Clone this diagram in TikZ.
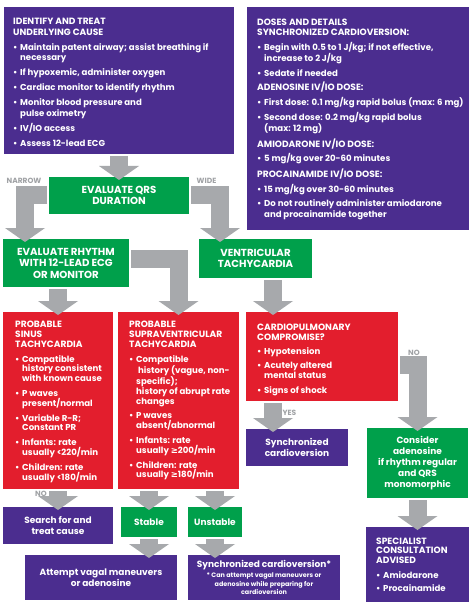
\documentclass[tikz,border=0pt]{standalone}
\usepackage{fontspec}
\setmainfont{Poppins}
\newfontfamily\symf{DejaVu Sans}
\usetikzlibrary{arrows.meta,calc}
\definecolor{pur}{HTML}{4B2D8F}
\definecolor{grn}{HTML}{00A04B}
\definecolor{rd}{HTML}{E31E2D}
\definecolor{agray}{HTML}{A7A9AC}
\definecolor{lgray}{HTML}{A0A2A5}
\newcommand\mybul{\makebox[7pt][l]{\textbullet}}
\newcommand\myind{\hspace*{7pt}}
\newcommand\mygeq{{\symf\bfseries ≥}}
\newcommand\hd[1]{{\fontsize{9.1}{10.5}\selectfont #1}}
\newcommand\smf{\fontsize{6.4}{7.6}\selectfont}
\begin{document}
\begin{tikzpicture}[x=1pt,y=-1pt,
  box/.style={inner sep=0pt, outer sep=0pt, text=white, align=center, anchor=north west,
    font=\bfseries\fontsize{9}{11}\selectfont},
  capbox/.style={box, font=\bfseries\fontsize{10.2}{11.5}\selectfont},
  pbox/.style={box, fill=pur},
  gbox/.style={box, fill=grn},
  rbox/.style={box, fill=rd},
  sz/.style 2 args={minimum width=#1pt, minimum height=#2pt},
  lst/.style={anchor=north west, inner sep=0pt, text=white, align=left,
    font=\bfseries\fontsize{8.6}{10.5}\selectfont},
  lbl/.style={text=lgray, inner sep=0pt, font=\bfseries\fontsize{7.5}{8}\selectfont},
  garrow/.style={draw=agray, line width=18pt, line join=miter, line cap=butt,
    shorten <=2pt, shorten >=-3pt,
    -{Triangle[width=40pt,length=14pt,line width=0pt]}}
]
\fill[white] (0,0) rectangle (474,612);
\useasboundingbox (0,0) rectangle (474,612);

% boxes
\node[pbox, sz={230}{147}] (idt) at (4,7) {};
\node[pbox, sz={222}{223}] (dose) at (247,7) {};
\node[gbox, capbox, sz={140}{37}] (qrs) at (49,177) {EVALUATE QRS\\DURATION};
\node[gbox, capbox, sz={126}{48}] (rhythm) at (3,239) {EVALUATE RHYTHM\\WITH 12-LEAD ECG\\OR MONITOR};
\node[gbox, capbox, sz={113}{39}] (vt) at (199,239) {VENTRICULAR\\TACHYCARDIA};
\node[rbox, sz={110}{177}] (sinus) at (3,312) {};
\node[rbox, sz={121}{177}] (svt) at (118,312) {};
\node[rbox, sz={152}{89}] (cardio) at (246,312) {};
\node[pbox, sz={102}{37}] (sync) at (246,429) {Synchronized\\cardioversion};
\node[gbox, sz={101}{70}] (consider) at (367,428) {Consider\\adenosine\\if rhythm regular\\and QRS\\monomorphic};
\node[pbox, sz={110}{37}] (search) at (3,507) {Search for and\\treat cause};
\node[gbox, sz={56}{30}] (stable) at (121,507) {Stable};
\node[gbox, sz={54}{30}] (unstable) at (188,507) {Unstable};
\node[pbox, sz={152}{45}] (vagal) at (25,555) {Attempt vagal maneuvers\\or adenosine};
\node[pbox, sz={152}{45}] (synccv) at (188,555) {Synchronized cardioversion*\\[-1pt]
  \smf * Can attempt vagal maneuvers or\\[-2.5pt]\smf adenosine while preparing for\\[-2.5pt]\smf cardioversion};
\node[pbox, sz={103}{75}] (spec) at (366,527) {};

% list texts
\node[lst] (idttxt) at (13,18) {\hd{IDENTIFY AND TREAT}\\
\hd{UNDERLYING CAUSE}\\[4.5pt]
\mybul Maintain patent airway; assist breathing if\\
\myind necessary\\[4.5pt]
\mybul If hypoxemic, administer oxygen\\[4.5pt]
\mybul Cardiac monitor to identify rhythm\\[4.5pt]
\mybul Monitor blood pressure and\\
\myind pulse oximetry\\[4.5pt]
\mybul IV/IO access\\[4.5pt]
\mybul Assess 12-lead ECG};

\node[lst] (dosetxt) at (257,18.5) {\hd{DOSES AND DETAILS}\\
\hd{SYNCHRONIZED CARDIOVERSION:}\\[4pt]
\mybul Begin with 0.5 to 1 J/kg; if not effective,\\
\myind increase to 2 J/kg\\[4pt]
\mybul Sedate if needed\\[4pt]
\hd{ADENOSINE IV/IO DOSE:}\\[4pt]
\mybul First dose: 0.1 mg/kg rapid bolus (max: 6 mg)\\[4pt]
\mybul Second dose: 0.2 mg/kg rapid bolus\\
\myind (max: 12 mg)\\[4pt]
\hd{AMIODARONE IV/IO DOSE:}\\[4pt]
\mybul 5 mg/kg over 20-60 minutes\\[4pt]
\hd{PROCAINAMIDE IV/IO DOSE:}\\[4pt]
\mybul 15 mg/kg over 30-60 minutes\\[4pt]
\mybul Do not routinely administer amiodarone\\
\myind and procainamide together};

\node[lst, font=\bfseries\fontsize{8.6}{9.8}\selectfont] (sinustxt) at (15,321) {\hd{PROBABLE}\\
\hd{SINUS}\\
\hd{TACHYCARDIA}\\[5pt]
\mybul Compatible\\
\myind history consistent\\
\myind with known cause\\[5pt]
\mybul P waves\\
\myind present/normal\\[5pt]
\mybul Variable R-R;\\
\myind Constant PR\\[5pt]
\mybul Infants: rate\\
\myind usually <220/min\\[5pt]
\mybul Children: rate\\
\myind usually <180/min};

\node[lst, font=\bfseries\fontsize{8.6}{9.8}\selectfont] (svttxt) at (129,321) {\hd{PROBABLE}\\
\hd{SUPRAVENTRICULAR}\\
\hd{TACHYCARDIA}\\[5pt]
\mybul Compatible\\
\myind\ history (vague, non-\\
\myind specific);\\
\myind history of abrupt rate\\
\myind changes\\[5pt]
\mybul P waves\\
\myind absent/abnormal\\[5pt]
\mybul Infants: rate\\
\myind usually \mygeq200/min\\[5pt]
\mybul Children: rate\\
\myind usually \mygeq180/min};

\node[lst, font=\bfseries\fontsize{8.6}{10}\selectfont] (cardiotxt) at (257,323.5) {\hd{CARDIOPULMONARY}\\
\hd{COMPROMISE?}\\[4.3pt]
\mybul Hypotension\\[4.3pt]
\mybul Acutely altered\\
\myind mental status\\[4.3pt]
\mybul Signs of shock};

\node[lst, font=\bfseries\fontsize{8.6}{9.7}\selectfont] (spectxt) at (376,537.5) {\hd{SPECIALIST}\\
\hd{CONSULTATION}\\
\hd{ADVISED}\\[5pt]
\mybul Amiodarone\\[4pt]
\mybul Procainamide};

% connectors
\coordinate (narrowend) at ([xshift=22pt]rhythm.north west);
\coordinate (wideend) at ([xshift=21pt]vt.north west);
\coordinate (cpin) at ([xshift=-49pt]cardio.north);
\coordinate (syin) at ([xshift=-24pt]sync.north);

\draw[garrow] (idt.south) -- (qrs.north);
\draw[garrow] (qrs.west) -| (narrowend);
\draw[garrow] (qrs.east) -| (wideend);
\draw[garrow] ([yshift=4pt]rhythm.east) -| (svt.north);
\draw[garrow] (sinus.north |- rhythm.south) -- (sinus.north);
\draw[garrow] (cpin |- vt.south) -- (cpin);
\draw[garrow] ([yshift=-8.5pt]cardio.east) -| (consider.north);
\draw[garrow] (syin |- cardio.south) -- (syin);
\draw[garrow] (sinus.south) -- (search.north);
\draw[garrow] (stable.north |- svt.south) -- (stable.north);
\draw[garrow] (unstable.north |- svt.south) -- (unstable.north);
\draw[garrow] (stable.south) -- (stable.south |- vagal.north);
\draw[garrow] (unstable.south) -- (unstable.south |- synccv.north);
\draw[garrow] (consider.south) -- (consider.south |- spec.north);

% labels
\node[lbl] (lnarrow) at (24,181) {NARROW};
\node[lbl] (lwide) at (206.5,181) {WIDE};
\node[lbl] (lno1) at (41,494) {NO};
\node[lbl] (lyes) at (289.5,413) {YES};
\node[lbl] (lno2) at (414,353) {NO};
\end{tikzpicture}
\end{document}
